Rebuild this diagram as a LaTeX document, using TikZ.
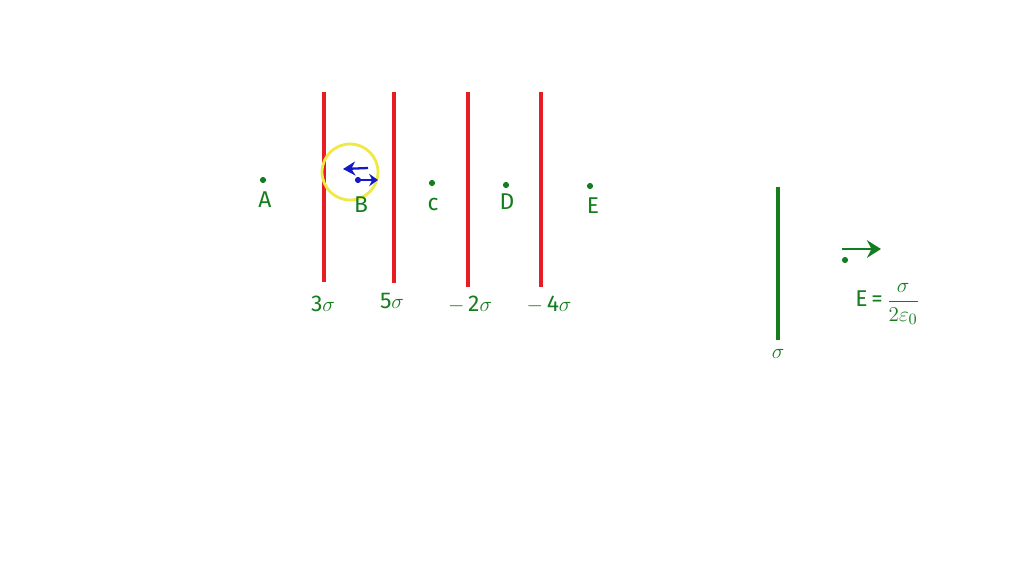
\documentclass[tikz,border=0pt]{standalone}
\usepackage{fontspec}
\setmainfont{Fira Sans}
\usetikzlibrary{arrows.meta}
\definecolor{pgreen}{RGB}{20,125,30}
\definecolor{pred}{RGB}{232,28,36}
\definecolor{pblue}{RGB}{20,25,200}
\definecolor{pyellow}{RGB}{240,232,70}
\begin{document}
\begin{tikzpicture}[x=0.02cm,y=-0.02cm,
  sheet/.style={draw=pred,line width=2.2pt},
  gsheet/.style={draw=pgreen,line width=2.4pt},
  lbl/.style={text=pgreen,font=\fontsize{13}{15}\selectfont,inner sep=0pt},
  pt/.style={circle,fill=pgreen,inner sep=0pt,minimum size=3.5pt},
  barrow/.style={draw=pblue,line width=1.3pt,-{Stealth[length=7pt,width=8pt]}},
  garrow/.style={draw=pgreen,line width=1.6pt,-{Stealth[length=8pt,width=10pt]}}]
\useasboundingbox (0,0) rectangle (1024,576);
% red sheets
\coordinate (s1t) at (324,92); \coordinate (s1b) at (324,282);
\coordinate (s2t) at (394,92); \coordinate (s2b) at (394,283);
\coordinate (s3t) at (468,92); \coordinate (s3b) at (468,287);
\coordinate (s4t) at (541,92); \coordinate (s4b) at (541,287);
\draw[sheet] (s1t) -- (s1b);
\draw[sheet] (s2t) -- (s2b);
\draw[sheet] (s3t) -- (s3b);
\draw[sheet] (s4t) -- (s4b);
% charge labels
\node[lbl] (q1) at (323,304) {3$\sigma$};
\node[lbl] (q2) at (392,301) {5$\sigma$};
\node[lbl] (q3) at (470,305) {$-$\,2$\sigma$};
\node[lbl] (q4) at (549,305) {$-$\,4$\sigma$};
% highlight circle
\node[draw=pyellow,line width=1.6pt,circle,minimum size=1.12cm,inner sep=0pt] (hl) at (350,172) {};
% blue arrows
\coordinate (b1s) at (368,168); \coordinate (b1e) at (343,169);
\draw[barrow] (b1s) -- (b1e);
\node[circle,fill=pblue,inner sep=0pt,minimum size=3.5pt] (b2s) at (358,180) {};
\coordinate (b2e) at (378,180);
\draw[draw=pblue,line width=1.3pt,-{Stealth[length=5pt,width=7pt]}] (b2s) -- (b2e);
% points
\node[pt] (pA) at (263,180) {};
\node[lbl] (A) at (265,200) {A};
\node[lbl] (B) at (361,205) {B};
\node[pt] (pC) at (432,183) {};
\node[lbl] (C) at (433,204) {c};
\node[pt] (pD) at (506,185) {};
\node[lbl] (D) at (507,202) {D};
\node[pt] (pE) at (590,186) {};
\node[lbl] (E) at (593,206) {E};
% green sheet
\coordinate (gt) at (778,187); \coordinate (gb) at (778,340);
\draw[gsheet] (gt) -- (gb);
\node[lbl] (gs) at (778,354) {$\sigma$};
\coordinate (ga) at (842,249); \coordinate (gz) at (881,249);
\draw[garrow] (ga) -- (gz);
\node[pt] (gp) at (845,260) {};
\node[lbl,anchor=west] (form) at (855,304) {E\,=\,$\displaystyle\frac{\sigma}{2\varepsilon_0}$};
\end{tikzpicture}
\end{document}
